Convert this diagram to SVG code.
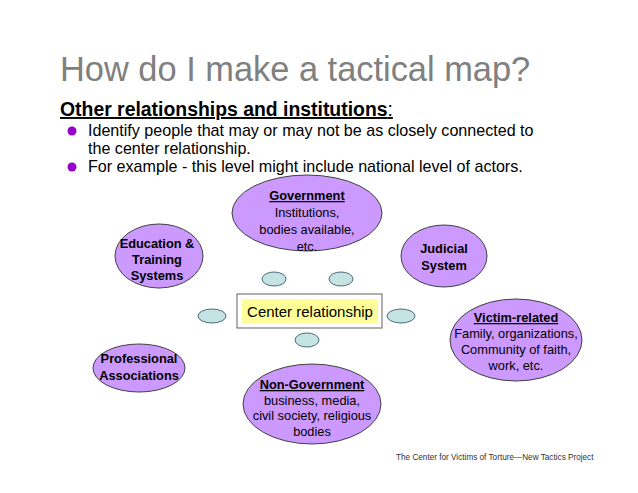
<svg xmlns="http://www.w3.org/2000/svg" width="638" height="493" viewBox="0 0 638 493">
<style>
text{font-family:"Liberation Sans",Arial,sans-serif;}
.big{fill:#cc99ff;stroke:#404040;stroke-width:1;}
.small{fill:#c4e3e3;stroke:#506a78;stroke-width:1;}
.nt{font-size:12.8px;fill:#000;text-anchor:middle;}
.b{font-weight:bold;}
.u{text-decoration:underline;}
.bul{fill:#9900cc;}
</style>
<rect width="638" height="493" fill="#fff"/>
<text x="60" y="81" font-size="34.4" fill="#808080">How do I make a tactical map?</text>
<text x="60" y="116" font-size="19.4" font-weight="bold" text-decoration="underline" fill="#000">Other relationships and institutions<tspan font-weight="normal" text-decoration="none">:</tspan></text>
<circle class="bul" cx="72" cy="131" r="4.5"/>
<circle class="bul" cx="72" cy="167" r="4.5"/>
<text x="88" y="136" font-size="16.1" fill="#000">Identify people that may or may not be as closely connected to</text>
<text x="88" y="154" font-size="16.1" fill="#000">the center relationship.</text>
<text x="88" y="172" font-size="16.1" fill="#000">For example - this level might include national level of actors.</text>

<g id="connectors">
<ellipse class="small" cx="274" cy="279" rx="12" ry="7"/>
<ellipse class="small" cx="341" cy="279" rx="12" ry="7"/>
<ellipse class="small" cx="212" cy="316" rx="14" ry="7"/>
<ellipse class="small" cx="401" cy="316" rx="14" ry="7"/>
<ellipse class="small" cx="307" cy="340" rx="12" ry="7"/>
</g>

<g id="center">
<rect x="237" y="294" width="145" height="34" fill="#fff" stroke="#606060" stroke-width="1"/>
<rect x="242" y="299" width="136" height="24" fill="#ffff99"/>
<text x="310" y="317" font-size="15" text-anchor="middle" fill="#000">Center relationship</text>
</g>

<g id="government">
<ellipse class="big" cx="307" cy="213" rx="75" ry="38"/>
<text class="nt" x="307" y="200"><tspan class="b u">Government</tspan><tspan x="307" dy="17">Institutions,</tspan><tspan x="307" dy="17">bodies available,</tspan><tspan x="307" dy="17">etc.</tspan></text>
</g>

<g id="education">
<ellipse class="big" cx="159" cy="256" rx="44" ry="32"/>
<text class="nt b" x="157" y="248" font-size="12.7">Education &amp;<tspan x="157" dy="16">Training</tspan><tspan x="157" dy="16">Systems</tspan></text>
</g>

<g id="judicial">
<ellipse class="big" cx="444" cy="256" rx="43" ry="31"/>
<text class="nt b" x="444" y="253" font-size="13">Judicial<tspan x="444" dy="17">System</tspan></text>
</g>

<g id="victim">
<ellipse class="big" cx="516" cy="340" rx="66" ry="41"/>
<text class="nt" x="516" y="322" font-size="13.1"><tspan class="b u">Victim-related</tspan><tspan x="516" dy="16">Family, organizations,</tspan><tspan x="516" dy="16">Community of faith,</tspan><tspan x="516" dy="16">work, etc.</tspan></text>
</g>

<g id="professional">
<ellipse class="big" cx="139" cy="368" rx="46" ry="24"/>
<text class="nt b" x="139" y="363" font-size="12.5">Professional<tspan x="139" dy="17">Associations</tspan></text>
</g>

<g id="nongovernment">
<ellipse class="big" cx="312" cy="404" rx="69" ry="40"/>
<text class="nt" x="312" y="389"><tspan class="b u">Non-Government</tspan><tspan x="312" dy="15.7">business, media,</tspan><tspan x="312" dy="15.7">civil society, religious</tspan><tspan x="312" dy="15.7">bodies</tspan></text>
</g>

<text x="396" y="460" font-size="8.2" fill="#333">The Center for Victims of Torture—New Tactics Project</text>
</svg>
